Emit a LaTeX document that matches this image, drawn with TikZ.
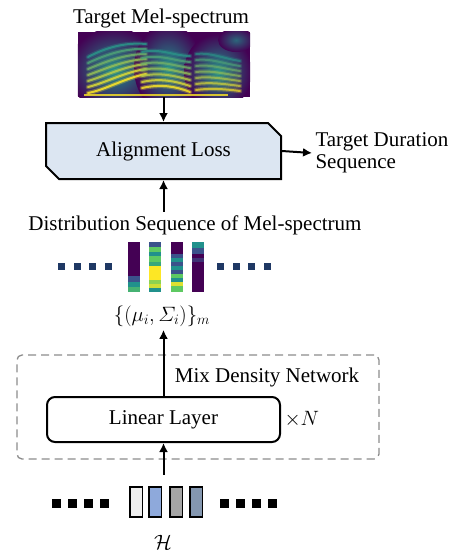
\documentclass[tikz,border=0pt]{standalone}
\usepackage{amsmath}
\usepackage{fontspec}
\setmainfont{Liberation Serif}
\usetikzlibrary{arrows.meta,shapes.misc}
\definecolor{vpurple}{HTML}{440154}
\definecolor{vblue}{HTML}{3B528B}
\definecolor{vteal}{HTML}{21918C}
\definecolor{vgreen}{HTML}{5EC962}
\definecolor{vyellow}{HTML}{FDE725}
\definecolor{lossfill}{HTML}{DCE6F2}
\definecolor{navydot}{HTML}{1F3864}
\definecolor{hlight}{HTML}{EEEEEE}
\definecolor{hblue}{HTML}{8EA9DB}
\definecolor{hgray}{HTML}{A5A5A5}
\definecolor{hslate}{HTML}{8497B0}
\begin{document}
\begin{tikzpicture}[x=1pt, y=-1pt,
    txt/.style={font=\fontsize{21}{21.5}\selectfont},
    arr/.style={line width=2pt, -{Latex[length=9pt,width=9pt]}},
    lossbox/.style={txt, draw, line width=2pt, fill=lossfill, chamfered rectangle,
        chamfered rectangle corners={north east,south west},
        chamfered rectangle xsep=10pt, minimum width=235pt, minimum height=56pt},
    layerbox/.style={txt, draw, line width=2pt, rounded corners=8pt, minimum width=233pt, minimum height=45pt},
    mdnbox/.style={draw=black!45, dash pattern=on 8pt off 5pt, line width=1.3pt, rounded corners=5pt,
        minimum width=362pt, minimum height=104pt},
    hbar/.style={draw, line width=1.6pt},
    blank/.style={inner sep=0pt, minimum width=#1},
]
\useasboundingbox (0,0) rectangle (457,557);

% target mel-spectrum
\node[txt] (meltitle) at (161,18) {Target Mel-spectrum};
\node[blank=172pt, minimum height=65pt] (mel) at (164,64.5) {};
\begin{scope}
    \clip (mel.south west) rectangle (mel.north east);
    \fill[vpurple] (mel.south west) rectangle (mel.north east);
    \shade[inner color=vteal, outer color=vpurple] (114,70) ellipse (46 and 42);
    \shade[inner color=vteal, outer color=vpurple] (168,68) ellipse (34 and 44);
    \shade[inner color=vteal, outer color=vpurple] (218,72) ellipse (34 and 38);
    \shade[inner color=vteal!70!vpurple, outer color=vpurple] (236,40) ellipse (18 and 12);
    \foreach \k in {0,...,6}{
        \pgfmathtruncatemacro\p{100-\k*16}
        \begin{scope}[vyellow!\p!vteal, line cap=round]
        \draw[line width=4.5pt, opacity=.3] (88,{93-\k*6}) .. controls (105,{90-\k*7}) and (125,{78-\k*6}) .. (146,{74-\k*5});
        \draw[line width=2pt, opacity=.85] (88,{93-\k*6}) .. controls (105,{90-\k*7}) and (125,{78-\k*6}) .. (146,{74-\k*5});
        \draw[line width=4.5pt, opacity=.3] (142,{88-\k*6}) .. controls (160,{84-\k*6}) and (175,{86-\k*5}) .. (190,{92-\k*6});
        \draw[line width=2pt, opacity=.8] (142,{88-\k*6}) .. controls (160,{84-\k*6}) and (175,{86-\k*5}) .. (190,{92-\k*6});
        \draw[line width=4.5pt, opacity=.25] (196,{90-\k*6}) .. controls (210,{88-\k*6}) and (225,{89-\k*5}) .. (240,{91-\k*5});
        \draw[line width=2pt, opacity=.65] (196,{90-\k*6}) .. controls (210,{88-\k*6}) and (225,{89-\k*5}) .. (240,{91-\k*5});
        \end{scope}
    }
    \draw[line width=2pt, vyellow, opacity=.8] (84,94.5) -- (228,94.5);
\end{scope}

% alignment loss
\node[lossbox] (align) at (163.5,151) {Alignment Loss};
\node[txt, anchor=west, align=left] (dur) at (312,153) {Target Duration\\Sequence};

% distribution sequence of mel-spectrum
\node[txt] (distlabel) at (195,225) {Distribution Sequence of Mel-spectrum};
\node[blank=76pt, minimum height=50pt] (dist) at (166,267) {};
\foreach \x/\bands in {
    128/{242/276/vpurple,276/282/vblue,282/287/vteal,287/292/vgreen!60!vteal},
    149/{242/247/vblue,247/252/vgreen,252/256/vteal,256/262/vgreen,262/266/vteal!60!vgreen,266/280/vyellow,280/284/vgreen!70!vyellow,284/288/vyellow!70!vgreen,288/292/vteal},
    171/{242/254/vpurple,254/258/vblue,258/262/vteal,262/266/vblue,266/270/vteal,270/274/vblue,274/278/vgreen,278/282/vteal,282/286/vyellow!80!vgreen,286/292/vgreen},
    192/{242/248/vteal,248/254/vblue,254/258/vpurple,258/262/vblue!60!vpurple,262/292/vpurple}}{
    \foreach \ya/\yb/\c in \bands
        \fill[\c] (\x,\ya) rectangle ({\x+11.5},\yb);
}
\foreach \x in {58,74,89,105,217,233,248,264}
    \fill[navydot] (\x,262.5) rectangle ({\x+7},269.5);
\node[txt] (mu) at (162,316) {$\{(\mu_i,\varSigma_i)\}_m$};

% mix density network
\node[mdnbox] (mdn) at (198,407) {};
\node[txt] (mdnlabel) at (267,377) {Mix Density Network};
\node[layerbox] (lin) at (163.5,419.5) {Linear Layer};
\node[txt, anchor=west] (times) at (lin.east) {$\times N$};

% hidden sequence
\node[blank=76pt, minimum height=30pt] (hseq) at (166,502) {};
\foreach \x/\c in {130/hlight, 149/hblue, 170/hgray, 190/hslate}
    \draw[hbar, fill=\c] (\x,487) rectangle ({\x+12.5},517);
\foreach \x in {52,68,84,100,220,236,252,268}
    \fill[black] (\x,498.5) rectangle ({\x+8.5},507.5);
\node[txt] (hlabel) at (163,542) {$\mathcal{H}$};

% connectors
\draw[arr] (mel.south -| align.north) -- (align.north);
\draw[arr] (align.east) -- (dur.west);
\draw[arr] (distlabel.north -| align.south) -- (align.south);
\draw[arr] (lin.north) -- (lin.north |- mu.south);
\draw[arr, shorten <=12pt] (hseq.north -| lin.south) -- (lin.south);
\end{tikzpicture}
\end{document}
